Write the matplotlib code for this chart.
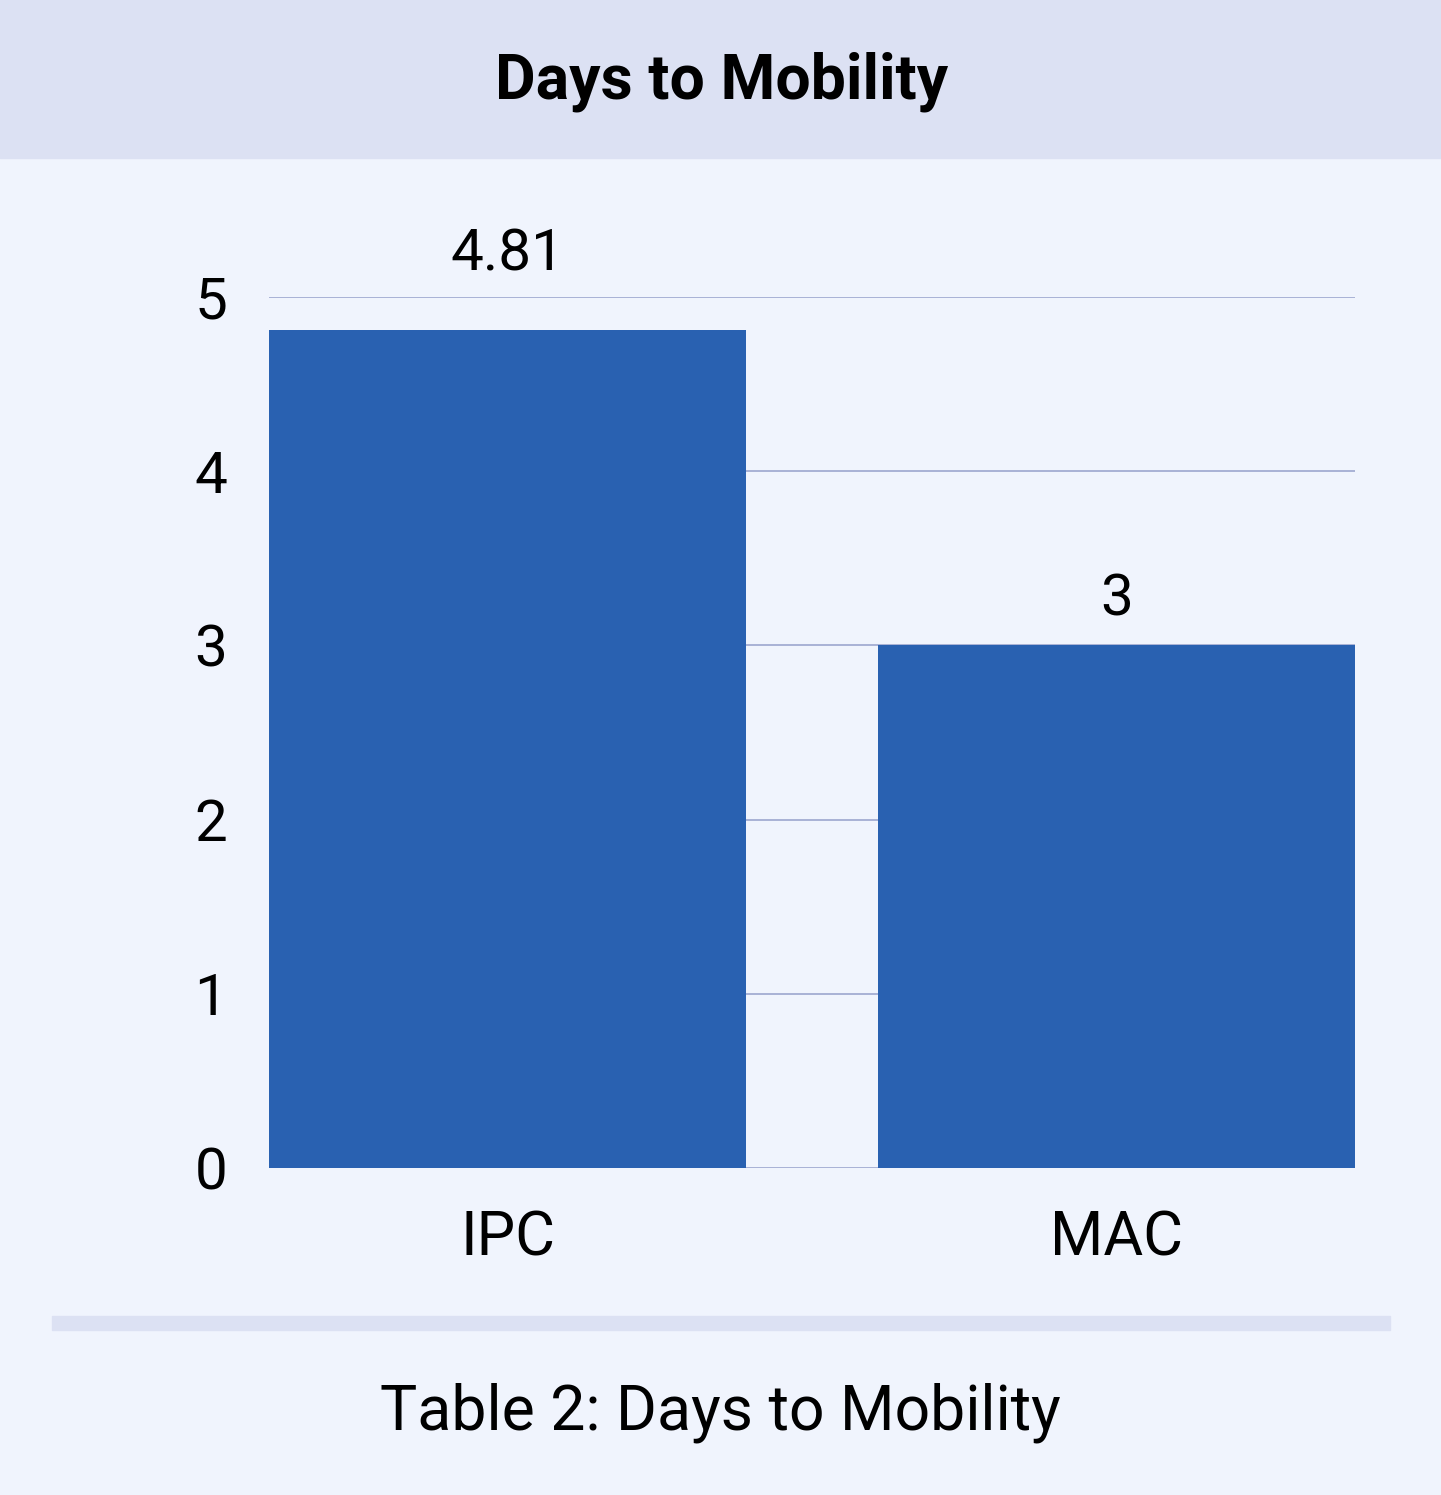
import matplotlib
matplotlib.use("Agg")
import matplotlib.pyplot as plt
from matplotlib.patches import Rectangle

categories = ["IPC", "MAC"]
days = [4.81, 3]
value_labels = ["4.81", "3"]
yticks = [0, 1, 2, 3, 4, 5]

bg = "#f0f4fd"
band = "#dce1f3"
bar_color = "#2961b1"
grid_color = "#9da6cf"
label_pad = [34, 13]

plt.rcParams["font.family"] = ["Roboto", "DejaVu Sans"]

W, H = 1441, 1495
fig = plt.figure(figsize=(W / 100, H / 100), dpi=100)
fig.patch.set_facecolor(bg)

# title band and separator
fig.patches.append(Rectangle((0, 1 - 158 / H), 1, 158 / H, transform=fig.transFigure, color=band, zorder=0))
fig.patches.append(Rectangle((52 / W, 1 - 1330 / H), (1390 - 52) / W, 14 / H, transform=fig.transFigure, color=band, zorder=0))
fig.text(722 / W, 1 - 82 / H, "Days to Mobility", ha="center", va="center", fontsize=45, fontweight="bold")
fig.text(720 / W, 1 - 1413 / H, "Table 2: Days to Mobility", ha="center", va="center", fontsize=45)

ax = fig.add_axes([269 / W, 1 - 1168 / H, (1355 - 269) / W, (1168 - 297) / H])
ax.patch.set_alpha(0)
x = range(len(categories))
ax.bar(x, days, width=0.784, color=bar_color, zorder=2)
ax.set_xlim(-0.392, 1.392)
ax.set_ylim(0, 5)
ax.set_yticks(yticks)
ax.set_yticklabels([str(t) for t in yticks], fontsize=42)
ax.set_xticks(list(x))
ax.set_xticklabels(categories, fontsize=44)
ax.tick_params(length=0)
ax.tick_params(axis="y", pad=42)
ax.tick_params(axis="x", pad=30)
for t in ax.get_yticklabels():
    t.set_horizontalalignment("center")
ax.yaxis.grid(True, color=grid_color, linewidth=1.2, zorder=1)
ax.set_axisbelow(True)
for s in ax.spines.values():
    s.set_visible(False)

for xi, v, lab, pad in zip(x, days, value_labels, label_pad):
    ax.annotate(lab, (xi, v), xytext=(0, pad), textcoords="offset points", ha="center", va="bottom", fontsize=42)

fig.savefig("out.png", dpi=100, facecolor=bg)
